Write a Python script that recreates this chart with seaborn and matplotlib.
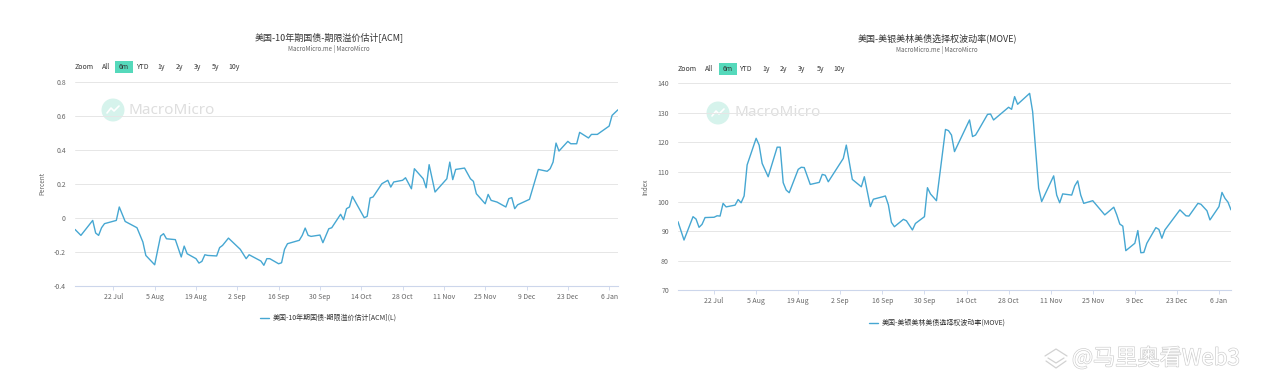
import numpy as np
import pandas as pd
import seaborn as sns
import matplotlib
matplotlib.use("Agg")
import matplotlib.pyplot as plt
import matplotlib.dates as mdates
from matplotlib import patheffects
from matplotlib.lines import Line2D
from matplotlib.patches import Rectangle, Circle
from matplotlib.transforms import IdentityTransform

# ---- data ----
acm_title = "美国-10年期国债-期限溢价估计[ACM]"
acm_legend = "美国-10年期国债-期限溢价估计[ACM](L)"
acm_dates = ["07-09", "07-11", "07-15", "07-16", "07-17", "07-18", "07-19", "07-23", "07-24", "07-26", "07-30",
             "08-01", "08-02", "08-05", "08-06", "08-07", "08-08", "08-09", "08-12", "08-14", "08-15", "08-16",
             "08-19", "08-20", "08-21", "08-22", "08-23", "08-26", "08-27", "08-28", "08-30",
             "09-03", "09-05", "09-06", "09-10", "09-11", "09-12", "09-13", "09-16", "09-17", "09-18", "09-19",
             "09-23", "09-24", "09-25", "09-26", "09-27", "09-30",
             "10-01", "10-03", "10-04", "10-07", "10-08", "10-09", "10-10", "10-11", "10-15", "10-16", "10-17",
             "10-18", "10-21", "10-23", "10-24", "10-25", "10-28", "10-29", "10-31",
             "11-01", "11-04", "11-05", "11-06", "11-08", "11-12", "11-13", "11-14", "11-15", "11-18", "11-20",
             "11-21", "11-22", "11-25", "11-26", "11-27", "11-29",
             "12-02", "12-03", "12-04", "12-05", "12-06", "12-10", "12-13", "12-16", "12-17", "12-18", "12-19",
             "12-20", "12-23", "12-24", "12-26", "12-27", "12-30", "12-31",
             "01-02", "01-06", "01-07", "01-09"]
acm_values = [-0.069, -0.104, -0.016, -0.090, -0.104, -0.059, -0.035, -0.016, 0.063, -0.022, -0.059,
              -0.143, -0.222, -0.277, -0.192, -0.108, -0.094, -0.124, -0.129, -0.231, -0.167, -0.212,
              -0.241, -0.267, -0.257, -0.218, -0.222, -0.225, -0.176, -0.163, -0.120,
              -0.186, -0.241, -0.218, -0.255, -0.280, -0.241, -0.241, -0.271, -0.265, -0.186, -0.153,
              -0.133, -0.104, -0.061, -0.104, -0.110, -0.102,
              -0.147, -0.065, -0.059, 0.020, -0.012, 0.053, 0.063, 0.125, 0.000, 0.008, 0.116,
              0.122, 0.200, 0.220, 0.180, 0.210, 0.220, 0.235, 0.170,
              0.288, 0.229, 0.176, 0.312, 0.151, 0.229, 0.327, 0.224, 0.284, 0.292, 0.229,
              0.214, 0.141, 0.082, 0.137, 0.102, 0.092,
              0.063, 0.112, 0.118, 0.053, 0.076, 0.108, 0.284, 0.273, 0.288, 0.327, 0.439,
              0.392, 0.449, 0.435, 0.435, 0.502, 0.469, 0.490,
              0.490, 0.539, 0.602, 0.635]

move_title = "美国-美银美林美债选择权波动率(MOVE)"
move_legend = "美国-美银美林美债选择权波动率(MOVE)"
move_dates = ["07-10", "07-12", "07-15", "07-16", "07-17", "07-18", "07-19", "07-22", "07-23", "07-24", "07-25",
              "07-26", "07-29", "07-30", "07-31",
              "08-01", "08-02", "08-05", "08-06", "08-07", "08-09", "08-12", "08-13", "08-14", "08-15", "08-16",
              "08-19", "08-20", "08-21", "08-23", "08-26", "08-27", "08-28", "08-29",
              "09-03", "09-04", "09-06", "09-09", "09-10", "09-12", "09-13", "09-16", "09-17", "09-18", "09-19",
              "09-20", "09-23", "09-24", "09-26", "09-27", "09-30",
              "10-01", "10-02", "10-04", "10-07", "10-08", "10-09", "10-10", "10-15", "10-16", "10-17", "10-18",
              "10-21", "10-22", "10-23", "10-28", "10-29", "10-30", "10-31",
              "11-04", "11-05", "11-07", "11-08", "11-12", "11-13", "11-14", "11-15", "11-18", "11-19", "11-20",
              "11-21", "11-22", "11-25", "11-29",
              "12-02", "12-03", "12-04", "12-05", "12-06", "12-09", "12-10", "12-11", "12-12", "12-13", "12-16",
              "12-17", "12-18", "12-19", "12-24", "12-26", "12-27", "12-30", "12-31",
              "01-02", "01-03", "01-06", "01-07", "01-08", "01-09", "01-10"]
move_values = [93.2, 87.0, 94.9, 94.1, 91.3, 92.3, 94.6, 94.7, 95.2, 95.1, 99.4, 98.2, 98.8, 100.7, 99.6,
               101.9, 112.4, 121.4, 119.1, 112.9, 108.4, 118.4, 118.4, 106.4, 103.9, 103.0, 110.9, 111.6,
               111.5, 105.8, 106.5, 109.2, 108.9, 106.7,
               114.6, 119.1, 107.5, 105.0, 108.4, 98.3, 100.8, 101.6, 101.9, 98.9, 93.0, 91.5, 94.0, 93.5,
               90.4, 92.6, 94.9,
               104.7, 102.6, 100.3, 124.4, 124.0, 122.5, 116.9, 127.6, 122.0, 122.5, 124.2, 129.5, 129.6,
               127.6, 131.9, 131.2, 135.5, 132.9,
               136.6, 130.4, 104.5, 100.0, 108.7, 102.2, 99.6, 102.6, 102.2, 105.3, 107.0, 102.2, 99.4,
               100.3, 95.5,
               98.1, 95.5, 92.4, 91.7, 83.4, 85.9, 90.2, 82.7, 82.8, 85.9, 91.2, 90.6, 87.6, 90.4, 97.2,
               95.2, 95.1, 99.4, 99.1,
               96.9, 93.8, 98.3, 103.1, 101.1, 99.8, 97.2]

acm_yticks = [-0.4, -0.2, 0, 0.2, 0.4, 0.6, 0.8]
acm_ylabels = ["-0.4", "-0.2", "0", "0.2", "0.4", "0.6", "0.8"]
move_yticks = [70, 80, 90, 100, 110, 120, 130, 140]
range_buttons = ["Zoom", "All", "6m", "YTD", "1y", "2y", "3y", "5y", "10y"]
subtitle = "MacroMicro.me | MacroMicro"


def to_dates(md):
    return pd.to_datetime([("2025-" if d.startswith("01") else "2024-") + d for d in md])


acm_df = pd.DataFrame({"date": to_dates(acm_dates), "value": acm_values})
move_df = pd.DataFrame({"date": to_dates(move_dates), "value": move_values})
tick_dates = pd.date_range("2024-07-22", "2025-01-06", freq="14D")

sns.set_theme(style="white")
plt.rcParams['font.family'] = ['Noto Sans CJK SC', 'DejaVu Sans']

W, H = 1262, 379
LINE = "#46a7d2"
GREY = "#666666"
PX = IdentityTransform()
fig = plt.figure(figsize=(W / 100, H / 100), dpi=100)


def fx(x):
    return x / W


def fy(y):
    return 1 - y / H


def box(x0, x1, y0, y1):
    return [fx(x0), fy(y1), fx(x1) - fx(x0), fy(y0) - fy(y1)]


def panel(ax, df, ylim, yticks, ylabels, xlim, ylabel, label, legend_xy):
    sns.lineplot(data=df, x="date", y="value", ax=ax, color=LINE, linewidth=1.0, label=label, zorder=3)
    ax.set_ylim(*ylim)
    ax.set_yticks(yticks)
    ax.set_yticklabels(ylabels)
    ax.set_xlim(pd.Timestamp(xlim[0]), pd.Timestamp(xlim[1]))
    ax.set_xticks(tick_dates)
    ax.xaxis.set_major_formatter(mdates.DateFormatter("%-d %b"))
    ax.yaxis.grid(True, color="#e6e6e6", linewidth=0.7)
    ax.xaxis.grid(False)
    ax.patch.set_alpha(0)
    for s in ["top", "right", "left"]:
        ax.spines[s].set_visible(False)
    ax.spines["bottom"].set_color("#ccd6eb")
    ax.spines["bottom"].set_linewidth(0.8)
    ax.tick_params(axis="x", bottom=True, length=3, width=0.6, color="#ccd6eb",
                   labelsize=5, labelcolor=GREY, pad=2)
    ax.tick_params(axis="y", left=False, length=0, labelsize=5, labelcolor=GREY, pad=6.5)
    ax.set_xlabel("")
    ax.set_ylabel(ylabel, fontsize=4.6, color=GREY)
    ax.yaxis.set_label_coords(-0.052, 0.5)
    ax.legend(loc="center", bbox_to_anchor=legend_xy, bbox_transform=fig.transFigure,
              frameon=False, fontsize=5, handlelength=1.3, handletextpad=0.5, labelcolor="#333333")


# MacroMicro watermark (behind the plots)
for cx, cy, tx in [(113, 110, 128), (718, 113, 734)]:
    fig.add_artist(Circle((cx, H - cy), 11.5, transform=PX, facecolor="#d6f3ec",
                          edgecolor="none", zorder=-2))
    fig.add_artist(Line2D([cx - 6, cx - 2, cx + 1, cx + 6], [H - cy - 3, H - cy + 2, H - cy - 1, H - cy + 4],
                          transform=PX, color="white", linewidth=1.2, zorder=-1))
    t = fig.text(fx(tx), fy(cy), "MacroMicro", ha="left", va="center", fontsize=11,
                 family="Noto Sans", weight="semibold", color="#dedede")
    t.set_zorder(-1)

ax1 = fig.add_axes(box(75, 618, 81.7, 285.7))
panel(ax1, acm_df, (-0.4, 0.8), acm_yticks, acm_ylabels, ("2024-07-09", "2025-01-09"),
      "Percent", acm_legend, (fx(328), fy(318)))

ax2 = fig.add_axes(box(678, 1231, 83.3, 290.3))
panel(ax2, move_df, (70, 140), move_yticks, [str(v) for v in move_yticks],
      ("2024-07-10", "2025-01-10"), "Index", move_legend, (fx(937), fy(323)))

# titles
for cx, ty, sy, t in [(329, 37, 49, acm_title), (937, 38, 50.5, move_title)]:
    fig.text(fx(cx), fy(ty), t, ha="center", va="center", fontsize=6.5, color="#333333")
    fig.text(fx(cx), fy(sy), subtitle, ha="center", va="center", fontsize=4.4, color=GREY)

# range selector buttons
button_sets = [
    (67, (115, 133), [75, 102, 124, 136, 157, 176, 194, 212, 228]),
    (69, (719, 737), [678, 705, 728, 739, 762, 780, 798, 817, 833]),
]
for y, (b0, b1), xs in button_sets:
    fig.add_artist(Rectangle((b0, H - y - 6), b1 - b0, 12, transform=PX,
                             facecolor="#55d9bb", edgecolor="none", zorder=-1))
    for x, lab in zip(xs, range_buttons):
        ha = "center" if lab == "6m" else "left"
        fig.text(fx(x), fy(y), lab, ha=ha, va="center", fontsize=5, color="#333333")

# bottom-right watermark: outlined text and chevron logo
wm = dict(transform=PX, color="#d2d2d2", linewidth=0.9)
fig.add_artist(Line2D([1045, 1056, 1067], [H - 356, H - 349, H - 356], **wm))
fig.add_artist(Line2D([1048, 1056, 1064], [H - 358, H - 363, H - 358], **wm))
fig.add_artist(Line2D([1046, 1056, 1066], [H - 361, H - 368, H - 361], **wm))
fig.text(fx(1072), fy(358), "@马里奥看Web3", ha="left", va="center", fontsize=16, color="white",
         path_effects=[patheffects.Stroke(linewidth=0.9, foreground="#cccccc"), patheffects.Normal()])

fig.savefig("out.png", dpi=100)
